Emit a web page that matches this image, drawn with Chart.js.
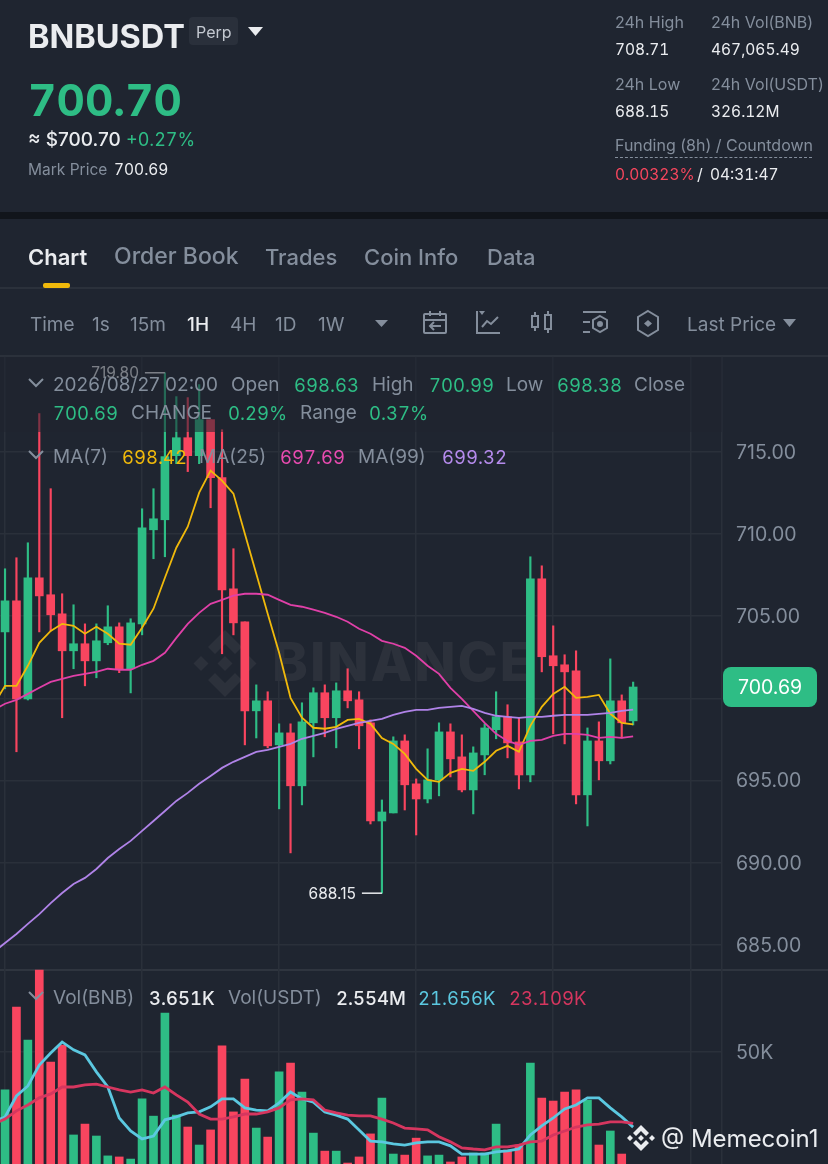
<!DOCTYPE html>
<html>
<head>
<meta charset="utf-8">
<title>BNBUSDT</title>
<script src="https://cdn.jsdelivr.net/npm/chart.js@4"></script>
<style>
  html, body { margin: 0; padding: 0; background: #1f2530; }
  body { position: relative; width: 828px; height: 1164px; overflow: hidden; font-family: Inter, sans-serif; }
  .t { position: absolute; white-space: nowrap; transform: translateY(-50%); line-height: 1.2; }
  .box { position: absolute; }
  canvas { position: absolute; left: 0; }
  svg { position: absolute; overflow: visible; }
</style>
</head>
<body>
<div class="box" style="left:0;top:212px;width:828px;height:7px;background:#11151b"></div>
<div class="box" style="left:0;top:287px;width:828px;height:2px;background:#2b313b"></div>
<div class="box" style="left:43px;top:283px;width:27px;height:5px;border-radius:2px;background:#f0b90b"></div>
<div class="box" style="left:0;top:355px;width:828px;height:2px;background:#2b313b"></div>
<div class="box" style="left:0;top:969px;width:828px;height:2px;background:#2f353f"></div>
<div class="box" style="left:189px;top:17px;width:49px;height:28px;border-radius:4px;background:#2a303b"></div>
<div class="box" style="left:615px;top:157px;width:197px;border-top:1px dashed #848e9c"></div>

<!-- watermark behind the charts -->
<svg style="left:0;top:0" width="828" height="1164">
  <g fill="#2c313b">
    <path d="M225 630l17 17-7 7-10-10-10 10-7-7z"/>
    <path d="M225 697l-17-17 7-7 10 10 10-10 7 7z"/>
    <path d="M201 656l7.500 7.500-7.500 7.500-7.500-7.500z"/>
    <path d="M249 656l7.500 7.500-7.500 7.500-7.500-7.500z"/>
    <path d="M225 656l7.500 7.500-7.500 7.500-7.500-7.500z"/>
  </g>
</svg>
<div class="t" style="left:272px;top:662px;font-size:54px;font-weight:800;letter-spacing:2px;color:#2c313b">BINANCE</div>

<canvas id="priceChart" width="828" height="612" style="top:356px"></canvas>
<canvas id="volChart" width="828" height="196" style="top:968px"></canvas>

<div class="box" style="left:0;top:357px;width:722px;height:75px;background:rgba(31,37,48,.55)"></div>

<svg style="left:0;top:0" width="828" height="1164" fill="none" stroke="#848e9c" stroke-width="2">
  <polyline points="29,379 36,386 43,379"/>
  <polyline points="29,451 36,458 43,451"/>
  <polyline points="29,992 36,999 43,992"/>
  <g stroke="none">
    <path d="M248 27h15l-7.500 9z" fill="#eaecef"/>
    <path d="M375 320h13l-6.500 7z" fill="#848e9c"/>
    <path d="M783 319h13l-6.500 8z" fill="#848e9c"/>
  </g>
  <!-- toolbar icons -->
  <rect x="424" y="314" width="22" height="19" rx="1"/><path d="M424 320h22M430 311v5M440 311v5M441 326h-11m4-4l-4 4 4 4"/>
  <path d="M477 311v22h23M482 327l5-6 4 3 7-7"/><path d="M479 311h6l-3 4z" fill="#848e9c" stroke="none"/>
  <rect x="532" y="316" width="6" height="11"/><path d="M535 312v4M535 327v4"/><rect x="545" y="315" width="6" height="14"/><path d="M548 311v4M548 329v4"/>
  <path d="M583 312h23M583 322h7M583 332h7"/><path d="M600 316l7 4v8l-7 4-7-4v-8z"/><circle cx="600" cy="324" r="2" fill="#848e9c"/>
  <path d="M648 311l10 6v13l-10 6-10-6v-13z"/><path d="M648 320l4 3.500-4 3.500-4-3.500z" fill="#848e9c" stroke="none"/>
  <!-- small watermark logo -->
  <g fill="#eaecef" stroke="none">
    <path d="M641 1125l8 8-3 3-5-5-5 5-3-3z"/>
    <path d="M641 1151l-8-8 3-3 5 5 5-5 3 3z"/>
    <path d="M630 1135l3 3-3 3-3-3zM652 1135l3 3-3 3-3-3zM641 1135l3 3-3 3-3-3z"/>
  </g>
</svg>
<div id="labels"></div>

<script>
// candles: one hourly bar per entry, the first one sits just off the left edge
const opens = [703, 704.04, 705.93, 699.97, 707.33, 706.30, 705.14, 702.89, 703.32, 702.28, 703.38, 704.35, 701.80, 704.53, 710.25, 710.86, 714.76, 715.85, 714.76, 716.95, 713.42, 706.66, 704.65, 699.24, 699.85, 697.17, 697.90, 694.68, 698.51, 700.34, 698.82, 700.46, 699.91, 698.51, 692.54, 693.03, 697.41, 694.80, 693.88, 695.04, 697.96, 696.44, 694.43, 696.56, 698.09, 698.88, 697.35, 695.34, 707.27, 702.59, 702.04, 701.67, 694.13, 697.41, 696.20, 699.85, 698.63];
const highs = [706, 707.88, 708.55, 709.46, 717.32, 712.75, 706.36, 705.69, 704.53, 704.53, 705.63, 704.59, 704.84, 711.53, 712.75, 719.80, 718.35, 718.29, 719.08, 716.95, 716.34, 709.10, 704.65, 700.82, 700.40, 698.45, 698.45, 699.73, 700.64, 700.82, 700.94, 701.80, 700.40, 698.69, 693.82, 697.66, 697.78, 695.10, 696.93, 698.51, 698.45, 697.78, 697.05, 698.45, 700.40, 699.61, 698.82, 708.61, 708.06, 704.41, 702.65, 702.89, 698.20, 698.57, 702.40, 700.21, 700.99];
const lows = [700, 700.58, 696.75, 699.90, 704.04, 704.10, 698.82, 701.80, 700.76, 701.25, 703.26, 701.56, 700.33, 703.86, 708.49, 708.61, 714.27, 713.79, 714.27, 711.59, 702.71, 703.86, 697.17, 697.59, 696.99, 693.28, 690.60, 693.52, 696.44, 697.66, 696.99, 699.42, 696.93, 692.36, 688.15, 693.03, 693.21, 691.69, 693.64, 694.07, 695.22, 694.31, 692.97, 695.35, 697.54, 696.38, 694.49, 694.92, 701.61, 697.84, 697.23, 693.58, 692.24, 695.04, 696.01, 697.59, 698.38];
const closes = [701, 705.93, 699.97, 707.33, 706.23, 705.08, 702.89, 703.32, 702.28, 703.50, 704.35, 701.80, 704.59, 710.37, 710.92, 714.70, 715.85, 714.76, 716.95, 713.42, 706.60, 704.59, 699.24, 699.85, 697.11, 697.90, 694.68, 698.57, 700.34, 698.82, 700.46, 699.85, 698.33, 692.54, 693.09, 697.41, 694.74, 693.88, 695.04, 697.96, 696.32, 694.43, 696.68, 698.20, 698.88, 697.29, 695.34, 707.27, 702.53, 701.98, 701.61, 694.13, 697.41, 696.20, 699.85, 698.51, 700.69];

const ma7 = [699.60, 700.76, 700.76, 701.98, 703.38, 704.10, 704.53, 704.41, 703.93, 704.35, 703.93, 703.32, 703.26, 704.29, 705.45, 707.33, 709.16, 710.44, 712.51, 713.85, 713.24, 712.45, 710.01, 707.58, 705.14, 702.77, 700.03, 698.82, 698.21, 698.15, 698.27, 698.69, 698.75, 698.45, 697.59, 697.23, 696.62, 695.71, 695.04, 694.92, 695.47, 695.71, 695.59, 696.14, 696.81, 697.11, 696.75, 698.33, 699.48, 700.27, 700.70, 700.03, 700.09, 700.21, 699.06, 698.51, 698.42];
const ma25 = [699.30, 699.67, 699.91, 700.27, 700.64, 701.00, 701.19, 701.37, 701.49, 701.61, 701.80, 701.74, 701.74, 702.04, 702.28, 702.77, 703.68, 704.53, 705.20, 705.75, 705.99, 706.24, 706.36, 706.36, 706.30, 705.99, 705.69, 705.57, 705.39, 705.20, 704.96, 704.66, 704.23, 703.93, 703.50, 703.32, 703.07, 702.59, 701.98, 701.49, 700.64, 699.97, 699.24, 698.51, 697.84, 697.41, 697.17, 697.41, 697.47, 697.72, 697.84, 697.84, 697.78, 697.60, 697.66, 697.60, 697.69];
const ma99 = [684.57, 685.12, 685.67, 686.28, 686.88, 687.55, 688.16, 688.71, 689.08, 689.62, 690.29, 690.84, 691.33, 691.94, 692.54, 693.15, 693.76, 694.25, 694.80, 695.28, 695.77, 696.14, 696.44, 696.74, 696.87, 697.05, 697.23, 697.54, 697.72, 697.90, 698.14, 698.33, 698.51, 698.63, 698.75, 699.00, 699.18, 699.30, 699.30, 699.42, 699.48, 699.54, 699.36, 699.12, 698.94, 698.87, 698.81, 698.87, 698.87, 698.94, 699.00, 699.00, 699.00, 699.06, 699.12, 699.24, 699.32];

// volume in thousands of BNB
const volumes = [30, 35.7, 67.0, 54.5, 80.9, 46.2, 52.6, 18.7, 22.8, 18.3, 10.8, 10.4, 9.6, 32.3, 25.8, 64.7, 26.2, 21.7, 14.9, 20.6, 52.3, 27.4, 39.8, 21.3, 17.9, 42.5, 45.8, 34.9, 19.4, 12.6, 12.6, 8.1, 10.4, 19.1, 32.6, 11.5, 11.1, 17.5, 10.8, 11.1, 8.5, 10.4, 11.9, 11.9, 22.8, 13.0, 14.9, 45.8, 32.6, 31.5, 34.9, 35.7, 31.9, 14.9, 20.2, 11.5, 3.651];
const volMaFast = [23.6, 25.5, 33.4, 37.2, 45.1, 49.6, 53.8, 50.8, 48.9, 42.5, 36.8, 25.1, 20.2, 17.2, 18.3, 24.4, 25.5, 27.0, 27.4, 29.3, 32.3, 32.3, 28.9, 28.1, 27.8, 30.8, 34.9, 32.3, 31.1, 27.4, 26.2, 24.7, 20.6, 16.4, 16.1, 15.3, 14.9, 15.7, 16.1, 16.1, 14.6, 11.5, 11.5, 11.5, 12.3, 12.7, 13.4, 18.7, 22.1, 25.1, 28.5, 30.0, 32.7, 32.7, 28.9, 25.5, 21.656];
const volMaSlow = [22.8, 24.7, 27.8, 30.0, 32.7, 34.2, 36.8, 36.8, 37.6, 37.9, 36.8, 35.7, 34.9, 35.7, 34.5, 36.8, 33.8, 31.1, 26.6, 24.7, 24.7, 25.5, 26.6, 26.6, 27.4, 28.9, 31.9, 32.3, 31.9, 28.1, 27.0, 26.2, 25.9, 25.9, 24.7, 23.2, 21.3, 21.0, 20.6, 18.0, 16.1, 13.8, 13.4, 13.1, 14.2, 14.2, 14.9, 16.1, 16.4, 18.7, 20.2, 21.7, 22.5, 22.8, 23.6, 23.6, 23.109];

const priceTicks = [685, 690, 695, 700, 705, 710, 715];
const volTicks = [50];
const gridCandles = [1, 13, 25, 37, 49, 61];

const GREEN = '#2ebd85';
const RED = '#f9455f';
const GRID = '#2a303a';
const GRAY = '#848e9c';
const FONT = 'Inter, sans-serif';

// visible candle range and value ranges of the two panes
const X_MIN = 0.56, X_MAX = 63.78;
const PRICE_MIN = 683.60, PRICE_MAX = 720.82;
const VOL_MIN = 7.74, VOL_MAX = 81.7;

const candleColors = opens.map((o, i) => closes[i] >= o ? GREEN : RED);
const xy = arr => arr.map((v, i) => ({ x: i, y: v }));
const range = (a, b) => a.map((v, i) => ({ x: i, y: [v, b[i]] }));

function paneScales(ticks, min, max, fmt) {
  return {
    x: {
      type: 'linear', min: X_MIN, max: X_MAX, offset: false,
      afterBuildTicks: s => { s.ticks = gridCandles.map(v => ({ value: v })); },
      afterFit: s => { s.height = 0; },
      ticks: { display: false, autoSkip: false },
      grid: { color: GRID, lineWidth: 1.5, offset: false, drawTicks: false },
      border: { display: false }
    },
    y: {
      position: 'right', min: min, max: max,
      afterBuildTicks: s => { s.ticks = ticks.map(v => ({ value: v })); },
      // the tick padding would otherwise shrink the plot area top and bottom
      afterFit: s => { s.width = 106; s.paddingTop = 0; s.paddingBottom = 0; },
      ticks: { color: GRAY, padding: 14, labelOffset: 1, font: { family: FONT, size: 19.500 }, callback: fmt, autoSkip: false },
      grid: { color: GRID, lineWidth: 1.5, drawTicks: false },
      border: { color: GRID, width: 1.5 }
    }
  };
}

function line(data, color, width, order) {
  return { type: 'line', data: xy(data), borderColor: color, borderWidth: width, pointRadius: 0, tension: 0, order: order };
}

// marks the highest and lowest wick and the last price tag
const priceMarks = {
  id: 'priceMarks',
  afterDatasetsDraw(chart) {
    const { ctx, scales: { x, y }, chartArea } = chart;
    const hi = highs.indexOf(Math.max(...highs.slice(1)));
    const lo = lows.indexOf(Math.min(...lows.slice(1)));
    ctx.save();
    ctx.font = '15.5px ' + FONT;
    ctx.textAlign = 'right';
    ctx.textBaseline = 'middle';
    [[hi, highs[hi]], [lo, lows[lo]]].forEach(([i, v]) => {
      const px = x.getPixelForValue(i), py = y.getPixelForValue(v);
      ctx.strokeStyle = '#eaecef';
      ctx.fillStyle = '#eaecef';
      ctx.lineWidth = 1.5;
      ctx.beginPath();
      ctx.moveTo(px - 20, py);
      ctx.lineTo(px, py);
      ctx.stroke();
      ctx.fillText(v.toFixed(2), px - 26, py + 1);
    });
    // last price tag on the axis
    const last = closes[closes.length - 1];
    const py = y.getPixelForValue(last);
    ctx.fillStyle = GREEN;
    ctx.beginPath();
    ctx.roundRect(chartArea.right + 1, py - 20, 94, 40, 8);
    ctx.fill();
    ctx.fillStyle = '#fff';
    ctx.font = '19.5px ' + FONT;
    ctx.textAlign = 'center';
    ctx.fillText(last.toFixed(2), chartArea.right + 48, py + 1);
    ctx.restore();
  }
};

Chart.defaults.animation = false;
Chart.defaults.plugins.legend.display = false;
Chart.defaults.plugins.tooltip.enabled = false;

new Chart(document.getElementById('priceChart').getContext('2d'), {
  type: 'bar',
  data: {
    datasets: [
      line(ma99, '#b083e8', 1.8, 1),
      line(ma25, '#e040a8', 1.8, 2),
      line(ma7, '#f0b90b', 1.8, 3),
      { data: range(opens, closes), backgroundColor: candleColors, grouped: false, maxBarThickness: 8, barPercentage: 1, categoryPercentage: 1, order: 5 },
      { data: range(lows, highs), backgroundColor: candleColors, grouped: false, maxBarThickness: 1.5, barPercentage: 1, categoryPercentage: 1, order: 6 }
    ]
  },
  options: {
    responsive: false,
    layout: { padding: 0 },
    scales: paneScales(priceTicks, PRICE_MIN, PRICE_MAX, v => v.toFixed(2))
  },
  plugins: [priceMarks]
});

new Chart(document.getElementById('volChart').getContext('2d'), {
  type: 'bar',
  data: {
    datasets: [
      line(volMaSlow, '#d6365f', 2.8, 1),
      line(volMaFast, '#5bc8e0', 2.8, 2),
      { data: xy(volumes), backgroundColor: candleColors, grouped: false, maxBarThickness: 8, barPercentage: 1, categoryPercentage: 1, order: 5 }
    ]
  },
  options: {
    responsive: false,
    layout: { padding: 0 },
    scales: paneScales(volTicks, VOL_MIN, VOL_MAX, v => v + 'K')
  }
});

// all the page text around the charts
const W = '#eaecef', G2 = '#2ebd85';
const PINK = '#e84bb0', PURPLE = '#b58bec', YEL = '#f0b90b';
const texts = [
  ['BNBUSDT', 28, 35, 32.5, W, 700], ['Perp', 196, 32, 16, '#c4c9d1', 400],
  ['700.70', 28, 99, 44, G2, 700],
  ['≈ $700.70', 28, 139, 19, W, 500], ['+0.27%', 126, 139, 18, G2, 400],
  ['Mark Price', 28, 169, 15.5, GRAY, 400], ['700.69', 114, 169, 15.5, W, 400],
  ['24h High', 615, 22, 16, GRAY, 400], ['24h Vol(BNB)', 711, 22, 16, GRAY, 400],
  ['708.71', 615, 49, 15.5, W, 400], ['467,065.49', 711, 49, 15.5, W, 400],
  ['24h Low', 615, 84, 16, GRAY, 400], ['24h Vol(USDT)', 711, 84, 16, GRAY, 400],
  ['688.15', 615, 111, 15.5, W, 400], ['326.12M', 711, 111, 15.5, W, 400],
  ['Funding (8h) / Countdown', 615, 145, 16, GRAY, 400],
  ['0.00323%', 615, 174, 15.5, '#f6465d', 400], ['/', 697, 174, 16, W, 400], ['04:31:47', 710, 174, 15.5, W, 400],
  ['Chart', 28, 256, 22, W, 600], ['Order Book', 114, 256, 23, GRAY, 500], ['Trades', 265, 256, 22, GRAY, 500],
  ['Coin Info', 364, 256, 22, GRAY, 500], ['Data', 487, 256, 22, GRAY, 500],
  ['Time', 30, 324, 19, GRAY, 400], ['1s', 92, 324, 19, GRAY, 400], ['15m', 130, 324, 19, GRAY, 400],
  ['1H', 187, 324, 19, W, 500], ['4H', 230, 324, 19, GRAY, 400], ['1D', 275, 324, 19, GRAY, 400],
  ['1W', 318, 324, 19, GRAY, 400], ['Last Price', 687, 324, 19, GRAY, 400],
  ['2026/08/27 02:00', 53, 384, 19, GRAY, 400], ['Open', 231, 384, 19, GRAY, 400], ['698.63', 294, 384, 18.5, G2, 400],
  ['High', 372, 384, 19, GRAY, 400], ['700.99', 429, 384, 18.5, G2, 400], ['Low', 506, 384, 19, GRAY, 400],
  ['698.38', 557, 384, 18.5, G2, 400], ['Close', 634, 384, 19, GRAY, 400],
  ['700.69', 53, 412, 18.5, G2, 400], ['CHANGE', 131, 412, 19, GRAY, 400], ['0.29%', 228, 412, 18.5, G2, 400],
  ['Range', 300, 412, 19, GRAY, 400], ['0.37%', 369, 412, 18.5, G2, 400],
  ['MA(7)', 53, 456, 19, GRAY, 400], ['698.42', 122, 456, 18.5, YEL, 400], ['MA(25)', 199, 456, 19, GRAY, 400],
  ['697.69', 280, 456, 18.5, PINK, 400], ['MA(99)', 358, 456, 19, GRAY, 400], ['699.32', 442, 456, 18.5, PURPLE, 400],
  ['Vol(BNB)', 53, 997, 19, GRAY, 400], ['3.651K', 149, 997, 18.5, W, 500], ['Vol(USDT)', 228, 997, 19, GRAY, 400],
  ['2.554M', 336, 997, 18.5, W, 500], ['21.656K', 418, 997, 18.5, '#5bc8e0', 400], ['23.109K', 509, 997, 18.5, '#d6365f', 400],
  ['@ Memecoin1', 661, 1138, 24, W, 400]
];
const holder = document.getElementById('labels');
texts.forEach(([s, x, y, size, color, weight]) => {
  const el = document.createElement('div');
  el.className = 't';
  el.textContent = s;
  // plain numbers use even digit widths, like the app does
  const tnum = /^[\d.,:%KM+]+$/.test(s) ? 'font-feature-settings:"tnum";' : '';
  el.style.cssText = `left:${x}px;top:${y + 1}px;font-size:${size}px;color:${color};font-weight:${weight};${tnum}`;
  holder.appendChild(el);
});
</script>
</body>
</html>
